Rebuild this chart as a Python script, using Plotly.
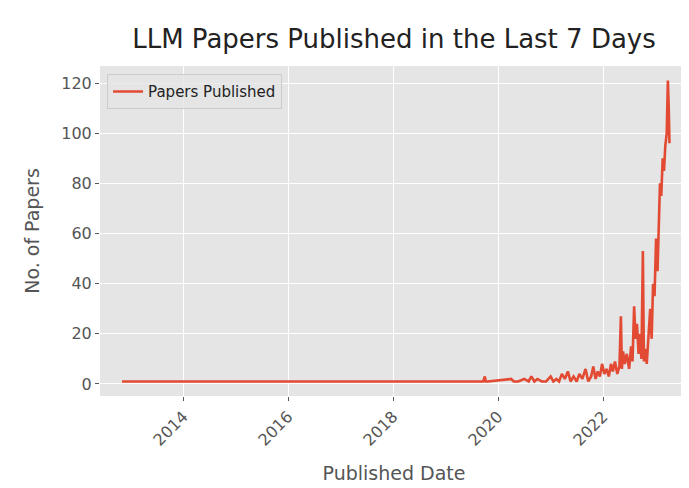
import plotly.graph_objects as go

# weekly counts (sparse in flat regions)
dates = [
    "2012-11-01", "2019-09-20", "2019-10-01", "2019-10-08", "2019-10-20", "2020-04-01",
    "2020-04-20", "2020-05-20", "2020-07-01", "2020-08-01", "2020-08-20", "2020-09-10",
    "2020-10-01", "2020-11-01", "2020-12-01", "2021-01-01", "2021-01-20", "2021-02-10",
    "2021-03-01", "2021-03-20", "2021-04-10", "2021-05-01", "2021-05-20", "2021-06-10",
    "2021-07-01", "2021-07-20", "2021-08-10", "2021-09-01", "2021-09-20", "2021-10-10",
    "2021-10-25", "2021-11-10", "2021-11-25", "2021-12-10", "2021-12-25", "2022-01-10",
    "2022-01-25", "2022-02-10", "2022-02-25", "2022-03-10", "2022-03-25", "2022-04-10",
    "2022-04-25", "2022-05-05", "2022-05-12", "2022-05-20", "2022-06-01", "2022-06-15",
    "2022-07-01", "2022-07-15", "2022-07-25", "2022-08-05", "2022-08-15", "2022-08-25",
    "2022-09-05", "2022-09-15", "2022-09-25", "2022-10-05", "2022-10-12", "2022-10-20",
    "2022-11-01", "2022-11-15", "2022-11-25", "2022-12-05", "2022-12-15", "2022-12-25",
    "2023-01-05", "2023-01-15", "2023-01-25", "2023-02-01", "2023-02-10", "2023-02-20",
    "2023-03-01", "2023-03-10", "2023-03-20", "2023-03-28", "2023-04-03", "2023-04-08",
]
papers = [
    1, 1, 3, 1, 1, 2,
    1, 1, 2, 1, 3, 1,
    2, 1, 1, 3, 1, 2,
    1, 4, 2, 5, 1, 3,
    1, 4, 2, 6, 1, 3,
    7, 2, 5, 3, 8, 4,
    6, 3, 8, 5, 9, 4,
    7, 27, 6, 13, 8, 12,
    6, 15, 9, 31, 18, 24,
    12, 20, 10, 53, 9, 14,
    8, 22, 30, 18, 40, 35,
    58, 45, 62, 80, 75, 90,
    85, 95, 100, 121, 110, 96,
]

fig = go.Figure(go.Scatter(
    x=dates, y=papers, mode="lines", name="Papers Published",
    line=dict(color="#E24A33", width=2.6),
))

fig.update_layout(
    width=689, height=488,
    paper_bgcolor="white", plot_bgcolor="#E5E5E5",
    font=dict(family="DejaVu Sans", color="#555555", size=16),
    title=dict(text="LLM Papers Published in the Last 7 Days", x=0.5, xref="paper",
               y=0.955, xanchor="center", font=dict(size=26, color="#222222")),
    margin=dict(l=92, r=9, t=58, b=100),
    showlegend=True,
    legend=dict(x=0.012, y=0.975, xanchor="left", yanchor="top",
                bgcolor="rgba(229,229,229,0.8)", bordercolor="#CCCCCC", borderwidth=1,
                font=dict(size=15, color="#222222")),
)
fig.update_xaxes(
    range=["2012-06-01", "2023-08-15"],
    tickvals=["2014-01-01", "2016-01-01", "2018-01-01", "2020-01-01", "2022-01-01"],
    ticktext=["2014", "2016", "2018", "2020", "2022"],
    tickangle=-45, gridcolor="white", gridwidth=1.3, showline=False, zeroline=False,
    ticks="outside", tickcolor="#555555", ticklen=4,
    title=dict(text="Published Date", font=dict(size=19), standoff=18),
)
fig.update_yaxes(
    range=[-4.8, 126.8], tickvals=[0, 20, 40, 60, 80, 100, 120],
    gridcolor="white", gridwidth=1.3, zeroline=False,
    ticks="outside", tickcolor="#555555", ticklen=4,
    title=dict(text="No. of Papers", font=dict(size=19), standoff=16),
)

fig.write_html("out.html")
